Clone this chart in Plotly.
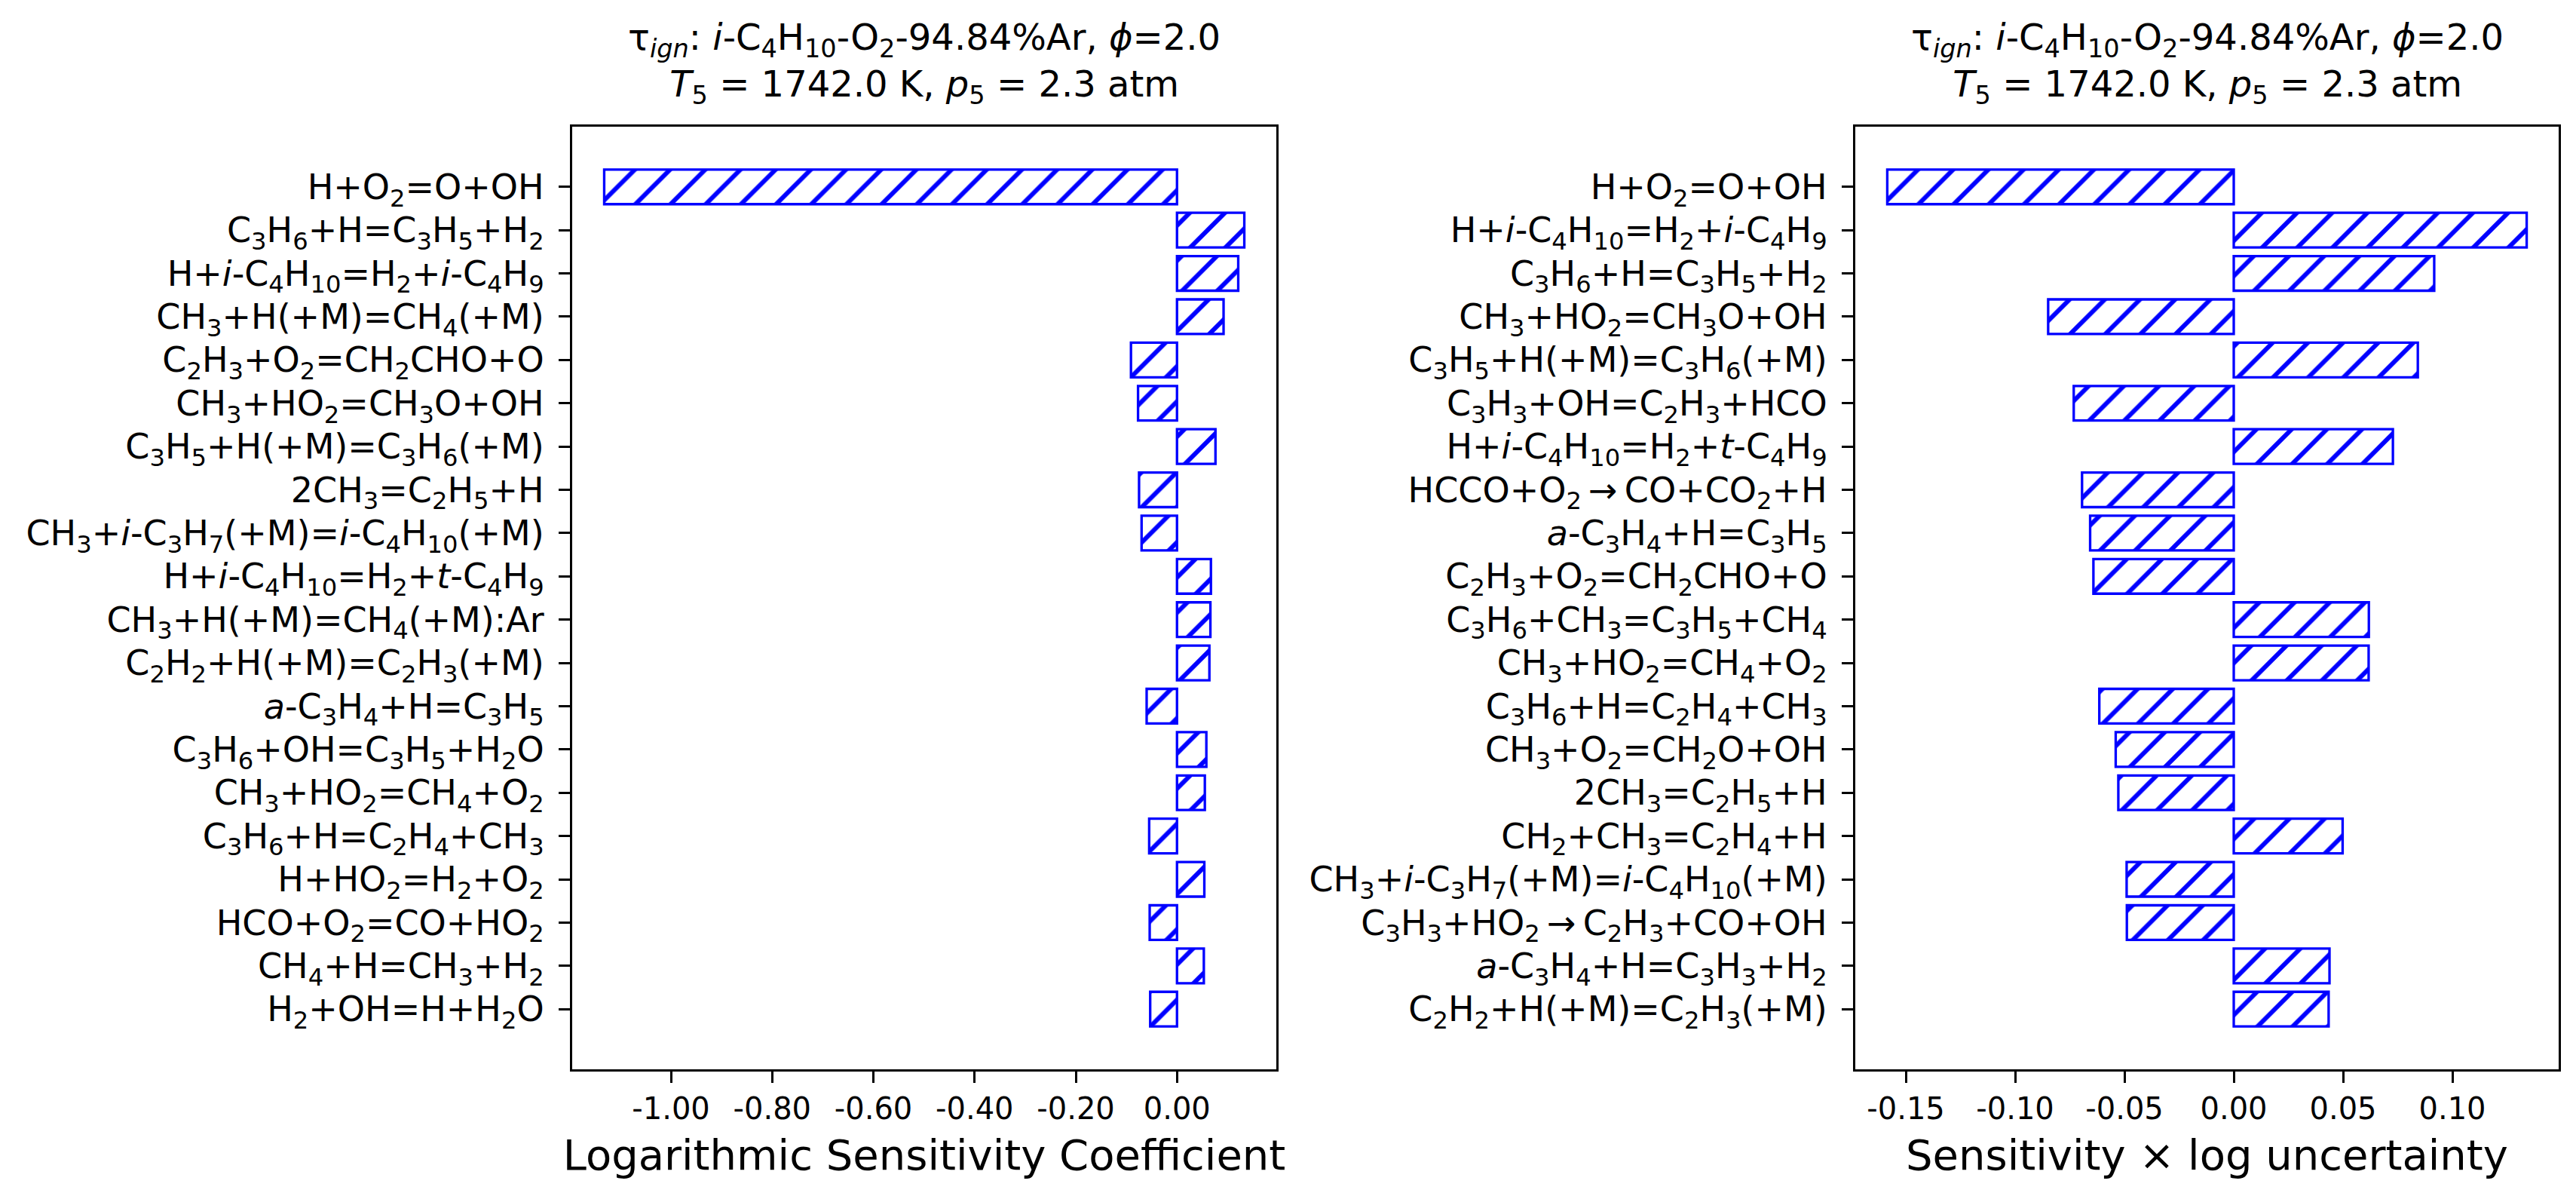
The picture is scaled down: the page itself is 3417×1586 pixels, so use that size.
import plotly.graph_objects as go

# left panel: logarithmic sensitivity coefficients
left_labels = [
    "H+O<sub>2</sub>=O+OH",
    "C<sub>3</sub>H<sub>6</sub>+H=C<sub>3</sub>H<sub>5</sub>+H<sub>2</sub>",
    "H+<i>i</i>-C<sub>4</sub>H<sub>10</sub>=H<sub>2</sub>+<i>i</i>-C<sub>4</sub>H<sub>9</sub>",
    "CH<sub>3</sub>+H(+M)=CH<sub>4</sub>(+M)",
    "C<sub>2</sub>H<sub>3</sub>+O<sub>2</sub>=CH<sub>2</sub>CHO+O",
    "CH<sub>3</sub>+HO<sub>2</sub>=CH<sub>3</sub>O+OH",
    "C<sub>3</sub>H<sub>5</sub>+H(+M)=C<sub>3</sub>H<sub>6</sub>(+M)",
    "2CH<sub>3</sub>=C<sub>2</sub>H<sub>5</sub>+H",
    "CH<sub>3</sub>+<i>i</i>-C<sub>3</sub>H<sub>7</sub>(+M)=<i>i</i>-C<sub>4</sub>H<sub>10</sub>(+M)",
    "H+<i>i</i>-C<sub>4</sub>H<sub>10</sub>=H<sub>2</sub>+<i>t</i>-C<sub>4</sub>H<sub>9</sub>",
    "CH<sub>3</sub>+H(+M)=CH<sub>4</sub>(+M):Ar",
    "C<sub>2</sub>H<sub>2</sub>+H(+M)=C<sub>2</sub>H<sub>3</sub>(+M)",
    "<i>a</i>-C<sub>3</sub>H<sub>4</sub>+H=C<sub>3</sub>H<sub>5</sub>",
    "C<sub>3</sub>H<sub>6</sub>+OH=C<sub>3</sub>H<sub>5</sub>+H<sub>2</sub>O",
    "CH<sub>3</sub>+HO<sub>2</sub>=CH<sub>4</sub>+O<sub>2</sub>",
    "C<sub>3</sub>H<sub>6</sub>+H=C<sub>2</sub>H<sub>4</sub>+CH<sub>3</sub>",
    "H+HO<sub>2</sub>=H<sub>2</sub>+O<sub>2</sub>",
    "HCO+O<sub>2</sub>=CO+HO<sub>2</sub>",
    "CH<sub>4</sub>+H=CH<sub>3</sub>+H<sub>2</sub>",
    "H<sub>2</sub>+OH=H+H<sub>2</sub>O",
]
left_values = [-1.132, 0.133, 0.121, 0.092, -0.091, -0.077, 0.076, -0.075, -0.070, 0.067,
               0.066, 0.064, -0.060, 0.058, 0.055, -0.055, 0.054, -0.054, 0.053, -0.053]

# right panel: sensitivity x log uncertainty
right_labels = [
    "H+O<sub>2</sub>=O+OH",
    "H+<i>i</i>-C<sub>4</sub>H<sub>10</sub>=H<sub>2</sub>+<i>i</i>-C<sub>4</sub>H<sub>9</sub>",
    "C<sub>3</sub>H<sub>6</sub>+H=C<sub>3</sub>H<sub>5</sub>+H<sub>2</sub>",
    "CH<sub>3</sub>+HO<sub>2</sub>=CH<sub>3</sub>O+OH",
    "C<sub>3</sub>H<sub>5</sub>+H(+M)=C<sub>3</sub>H<sub>6</sub>(+M)",
    "C<sub>3</sub>H<sub>3</sub>+OH=C<sub>2</sub>H<sub>3</sub>+HCO",
    "H+<i>i</i>-C<sub>4</sub>H<sub>10</sub>=H<sub>2</sub>+<i>t</i>-C<sub>4</sub>H<sub>9</sub>",
    "HCCO+O<sub>2</sub>\u2009→\u2009CO+CO<sub>2</sub>+H",
    "<i>a</i>-C<sub>3</sub>H<sub>4</sub>+H=C<sub>3</sub>H<sub>5</sub>",
    "C<sub>2</sub>H<sub>3</sub>+O<sub>2</sub>=CH<sub>2</sub>CHO+O",
    "C<sub>3</sub>H<sub>6</sub>+CH<sub>3</sub>=C<sub>3</sub>H<sub>5</sub>+CH<sub>4</sub>",
    "CH<sub>3</sub>+HO<sub>2</sub>=CH<sub>4</sub>+O<sub>2</sub>",
    "C<sub>3</sub>H<sub>6</sub>+H=C<sub>2</sub>H<sub>4</sub>+CH<sub>3</sub>",
    "CH<sub>3</sub>+O<sub>2</sub>=CH<sub>2</sub>O+OH",
    "2CH<sub>3</sub>=C<sub>2</sub>H<sub>5</sub>+H",
    "CH<sub>2</sub>+CH<sub>3</sub>=C<sub>2</sub>H<sub>4</sub>+H",
    "CH<sub>3</sub>+<i>i</i>-C<sub>3</sub>H<sub>7</sub>(+M)=<i>i</i>-C<sub>4</sub>H<sub>10</sub>(+M)",
    "C<sub>3</sub>H<sub>3</sub>+HO<sub>2</sub>\u2009→\u2009C<sub>2</sub>H<sub>3</sub>+CO+OH",
    "<i>a</i>-C<sub>3</sub>H<sub>4</sub>+H=C<sub>3</sub>H<sub>3</sub>+H<sub>2</sub>",
    "C<sub>2</sub>H<sub>2</sub>+H(+M)=C<sub>2</sub>H<sub>3</sub>(+M)",
]
right_values = [-0.1585, 0.134, 0.0917, -0.0849, 0.0842, -0.0732, 0.0728, -0.0694, -0.0657, -0.0642,
                0.0618, 0.0617, -0.0615, -0.054, -0.0528, 0.0498, -0.049, -0.0489, 0.0438, 0.0434]

left_ticks = [-1.0, -0.8, -0.6, -0.4, -0.2, 0.0]
left_ticktext = ["-1.00", "-0.80", "-0.60", "-0.40", "-0.20", "0.00"]
right_ticks = [-0.15, -0.10, -0.05, 0.0, 0.05, 0.10]
right_ticktext = ["-0.15", "-0.10", "-0.05", "0.00", "0.05", "0.10"]

title_text = ("τ<sub><i>ign</i></sub>: <i>i</i>-C<sub>4</sub>H<sub>10</sub>-O<sub>2</sub>-94.84%Ar, "
              "<i>ϕ</i>=2.0<br><i>T</i><sub>5</sub> = 1742.0 K, <i>p</i><sub>5</sub> = 2.3 atm")

W, H = 3417, 1586
FONT = "DejaVu Sans"


def pad_range(vals, frac=0.05):
    lo, hi = min(vals), max(vals)
    p = (hi - lo) * frac
    return [lo - p, hi + p]


def bar_trace(vals, labels, xa, ya):
    return go.Bar(
        x=vals, y=labels, orientation="h", width=0.8,
        xaxis=xa, yaxis=ya, showlegend=False,
        marker=dict(
            color="white",
            line=dict(color="#0000ff", width=3.3),
            pattern=dict(shape="/", fgcolor="#0000ff", bgcolor="white",
                         size=33, solidity=0.18, fillmode="replace", fgopacity=1),
        ),
    )


fig = go.Figure()
fig.add_trace(bar_trace(left_values, left_labels, "x", "y"))
fig.add_trace(bar_trace(right_values, right_labels, "x2", "y2"))

n = len(left_labels)
ypad = (n - 1 + 0.8) * 0.05 + 0.4
yrange = [n - 1 + ypad, -ypad]

axis_common = dict(
    showline=True, mirror=True, linecolor="black", linewidth=3.3,
    ticks="outside", ticklen=15, tickwidth=3.3, tickcolor="black",
    showgrid=False, zeroline=False,
)

left_dom = [751 / W, 1685 / W]
right_dom = [2453 / W, 3386 / W]
ydom = [1 - 1410 / H, 1 - 160 / H]

fig.update_layout(
    width=W, height=H,
    margin=dict(l=0, r=0, t=0, b=0),
    paper_bgcolor="white", plot_bgcolor="white",
    font=dict(family=FONT, color="black"),
    xaxis=dict(domain=left_dom, anchor="y", range=pad_range(left_values),
               tickvals=left_ticks, ticktext=left_ticktext, tickfont=dict(size=40),
               title=dict(text="Logarithmic Sensitivity Coefficient", font=dict(size=56), standoff=20),
               **axis_common),
    yaxis=dict(domain=ydom, anchor="x", range=yrange, tickfont=dict(size=46),
               ticklabelstandoff=10, **axis_common),
    xaxis2=dict(domain=right_dom, anchor="y2", range=pad_range(right_values),
                tickvals=right_ticks, ticktext=right_ticktext, tickfont=dict(size=40),
                title=dict(text="Sensitivity × log uncertainty", font=dict(size=56), standoff=20),
                **axis_common),
    yaxis2=dict(domain=ydom, anchor="x2", range=yrange, tickfont=dict(size=46),
                ticklabelstandoff=10, **axis_common),
    annotations=[
        dict(text=title_text, x=sum(d) / 2, y=1 - 140 / H, xref="paper", yref="paper",
             xanchor="center", yanchor="bottom", showarrow=False, font=dict(size=48))
        for d in (left_dom, right_dom)
    ],
)

fig.write_html("out.html")
